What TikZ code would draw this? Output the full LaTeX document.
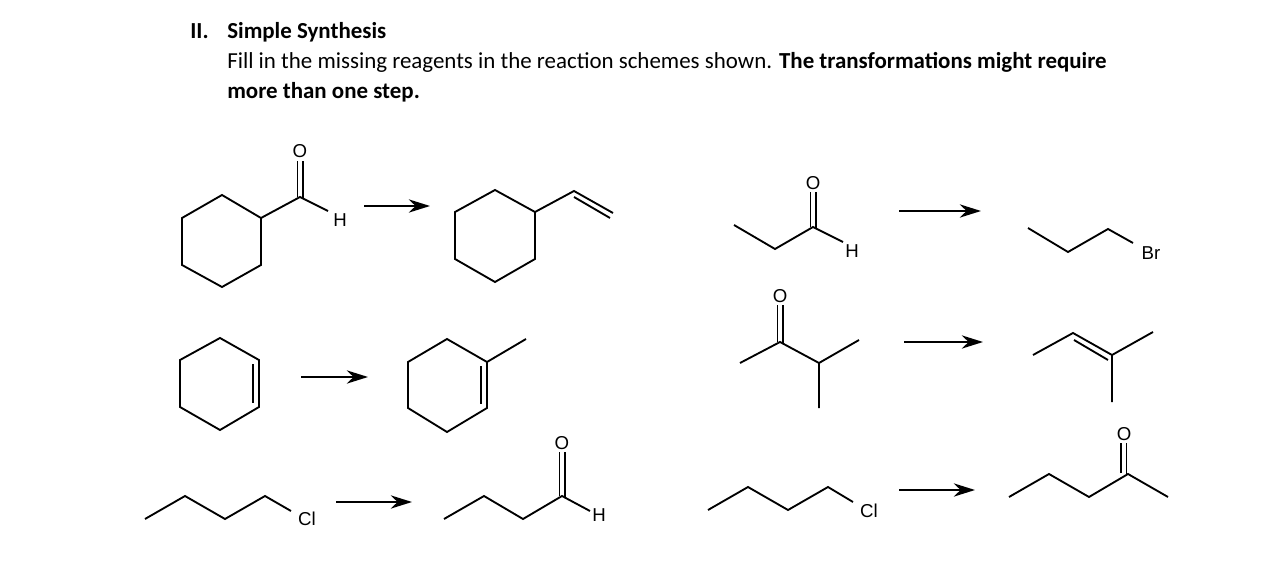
\documentclass[tikz,border=0pt]{standalone}
\usepackage{fontspec}
\setmainfont{Carlito}
\newfontfamily\atomfont{Liberation Sans}
\usetikzlibrary{arrows.meta}
\tikzset{bond/.style={line width=1.4pt,line join=miter},
 atom/.style={font=\atomfont\fontsize{14}{15}\selectfont,inner sep=0pt},
 rxn/.style={line width=1.4pt,-{Stealth[length=16pt,width=10pt]}},
 hdr/.style={font=\fontsize{17.2}{20}\selectfont,anchor=base west,inner sep=0pt}}
\begin{document}
\begin{tikzpicture}[x=0.75pt,y=-0.75pt]
\useasboundingbox (0,0) rectangle (1284,584);
% header
\node[hdr] (h1) at (190,39) {\textbf{II.}};
\node[hdr] (h2) at (227,39) {\textbf{Simple Synthesis}};
\node[hdr] (h3) at (227,69) {Fill in the missing reagents in the reaction schemes shown. \textbf{The transformations might require}};
\node[hdr] (h4) at (227,99) {\textbf{more than one step.}};
% 1: cyclohexanecarbaldehyde
\draw[bond] (222,195)--(261,218)--(261,265)--(222,287)--(182,265)--(182,218)--cycle;
\draw[bond] (261,218)--(300,197)--(328,211);
\node[atom] (o1) at (300,151) {O};
\node[atom] (h1a) at (340,220) {H};
\draw[bond] (297.5,197)--(297.5,161) (303,199)--(303,161);
\draw[rxn] (364,206) coordinate (a1s) -- (430,206) coordinate (a1e);
% vinylcyclohexane
\draw[bond] (495,190)--(535,212)--(535,259)--(495,282)--(455,259)--(455,212)--cycle;
\draw[bond] (535,212)--(574,191)--(613,213);
\draw[bond] (574,197)--(610,218);
% cyclohexene
\draw[bond] (220,338)--(259,360)--(259,407)--(220,430)--(180,407)--(180,360)--cycle;
\draw[bond] (253,364)--(253,403);
\draw[rxn] (301,377)--(368,377);
% 1-methylcyclohexene
\draw[bond] (447,339)--(487,362)--(487,408)--(447,432)--(408,408)--(408,362)--cycle;
\draw[bond] (481,366)--(481,404);
\draw[bond] (487,362)--(526,339);
% propanal
\draw[bond] (734,225)--(775,249)--(813,227)--(843,242);
\node[atom] (o2) at (813,183) {O};
\node[atom] (h2a) at (852,251) {H};
\draw[bond] (810.5,227)--(810.5,192) (816,229)--(816,192);
\draw[rxn] (899,211)--(981,211);
% 1-bromopropane
\draw[bond] (1028,228)--(1068,252)--(1108,229)--(1133,243);
\node[atom] (br) at (1151,253) {Br};
% 3-methyl-2-butanone
\draw[bond] (740,363)--(780,342)--(819,363)--(859,340) (819,363)--(819,408);
\node[atom] (o3) at (780,296) {O};
\draw[bond] (777.5,342)--(777.5,305) (783,344)--(783,305);
\draw[rxn] (904,342)--(983,342);
% 2-methyl-2-butene
\draw[bond] (1033,355)--(1073,333)--(1112,355)--(1153,332) (1112,355)--(1112,402);
\draw[bond] (1074,340)--(1108,360);
% 1-chlorobutane
\draw[bond] (145,519)--(185,496)--(225,519)--(265,496)--(291,511);
\node[atom] (cl1) at (307,519) {Cl};
\draw[rxn] (336,502)--(412,502);
% butanal
\draw[bond] (444,519)--(484,496)--(523,519)--(562,496)--(590,511);
\node[atom] (o4) at (562,443) {O};
\node[atom] (h4a) at (599,515) {H};
\draw[bond] (559.5,496)--(559.5,452) (565,498)--(565,452);
% 1-chlorobutane 2
\draw[bond] (708,510)--(748,487)--(788,510)--(828,487)--(853,502);
\node[atom] (cl2) at (869,511) {Cl};
\draw[rxn] (899,490)--(975,490);
% 2-pentanone
\draw[bond] (1009,497)--(1049,474)--(1089,497)--(1128,474)--(1168,497);
\node[atom] (o5) at (1124,434) {O};
\draw[bond] (1121,473)--(1121,443) (1126.5,476)--(1126.5,443);
\end{tikzpicture}
\end{document}
